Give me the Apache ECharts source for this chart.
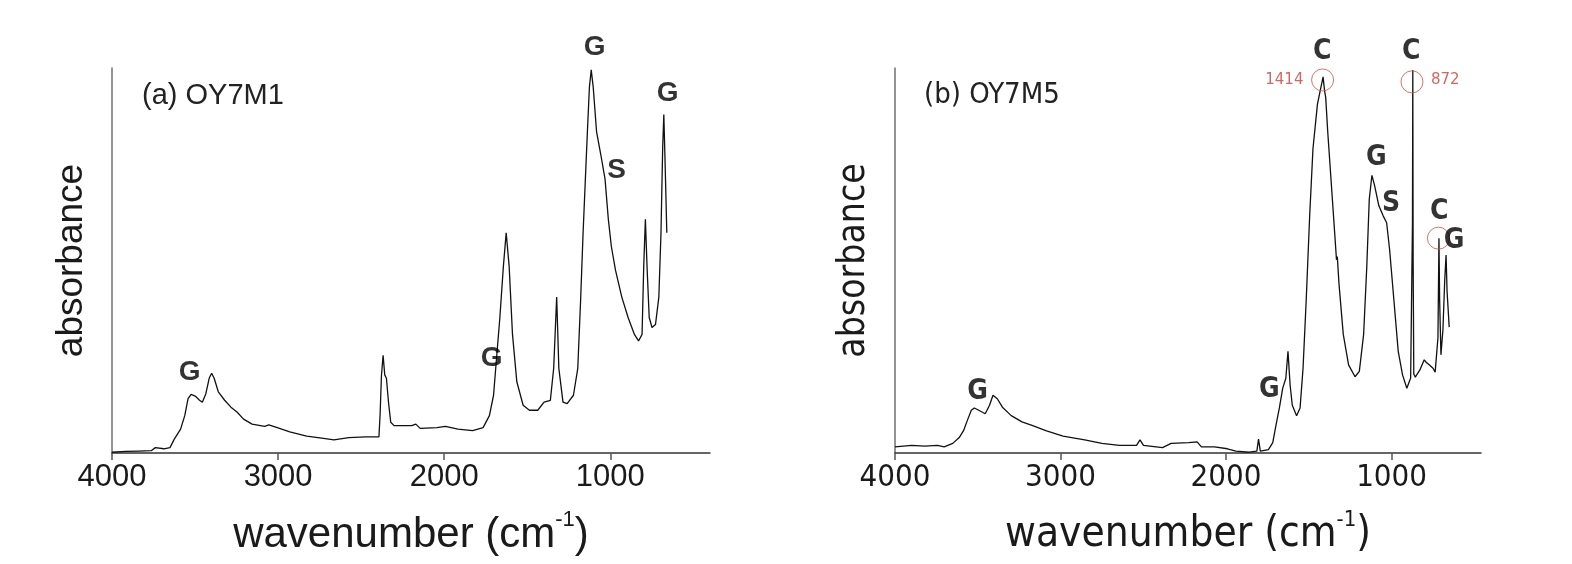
<!DOCTYPE html>
<html>
<head>
<meta charset="utf-8">
<script src="https://cdn.jsdelivr.net/npm/echarts@6/dist/echarts.min.js"></script>
<style>
  html, body { margin: 0; padding: 0; background: #fff; }
  #chart { width: 1572px; height: 564px; }
</style>
</head>
<body>
<div id="chart"></div>
<script>
// spectrum (a) OY7M1: [wavenumber, absorbance (arb.)]
var spectrumA = [
  [4000, 0.2], [3916, 0.4], [3840, 0.5], [3764, 0.6], [3739, 1.4], [3688, 1.1], [3651, 1.4],
  [3625, 3.6], [3587, 6.2], [3562, 9.7], [3542, 14.1], [3524, 15.2], [3499, 14.8], [3473, 13.7],
  [3456, 13.2], [3435, 15.4], [3415, 19.4], [3400, 20.7], [3385, 19.4], [3360, 15.9], [3322, 13.7],
  [3284, 11.9], [3246, 10.6], [3208, 8.8], [3157, 7.5], [3081, 6.9], [3056, 7.3], [3005, 6.6],
  [2930, 5.5], [2828, 4.4], [2727, 3.8], [2664, 3.4], [2575, 4.0], [2474, 4.2], [2393, 4.2],
  [2386, 10], [2378, 20], [2368, 25.4], [2358, 20.3], [2348, 19.4], [2335, 13], [2322, 8.0],
  [2302, 7.1], [2272, 7.1], [2196, 7.1], [2171, 7.5], [2145, 6.4], [2044, 6.6], [1993, 6.9],
  [1917, 6.2], [1829, 5.8], [1766, 6.6], [1728, 9.7], [1703, 15.0], [1690, 22.0], [1665, 35.2],
  [1644, 48.4], [1627, 57.2], [1624, 57.3], [1609, 48.4], [1589, 30.8], [1563, 18.5], [1525, 12.4],
  [1487, 11.1], [1437, 11.1], [1399, 13.2], [1361, 13.7], [1341, 22.0], [1323, 40.5], [1310, 22.0],
  [1285, 13.2], [1260, 12.8], [1222, 15.0], [1196, 22.0], [1179, 39.6], [1164, 57.2], [1151, 70.4],
  [1138, 83.5], [1126, 95.0], [1115, 99.5], [1103, 95.0], [1083, 83.5], [1057, 77.4], [1032, 71.2],
  [1012, 60.7], [994, 53.7], [969, 47.5], [931, 40.5], [893, 35.2], [855, 30.8], [830, 29.1],
  [809, 30.8], [799, 48.4], [789, 60.7], [779, 48.4], [766, 35.2], [749, 32.6], [728, 33.4],
  [708, 40.5], [695, 57.2], [685, 79.1], [678, 87.9], [670, 74.8], [660, 57.2]
];

// spectrum (b) OY7M5
var spectrumB = [
  [4000, 1.6], [3899, 2.0], [3821, 1.8], [3743, 2.0], [3703, 1.6], [3651, 2.5], [3612, 4.0],
  [3586, 5.8], [3560, 8.8], [3539, 11.1], [3521, 11.7], [3494, 11.1], [3455, 10.2], [3429, 12.4],
  [3408, 15.0], [3398, 15.4], [3382, 14.1], [3351, 11.9], [3298, 9.7], [3233, 8.1], [3168, 7.1],
  [3089, 5.8], [2985, 4.4], [2854, 3.4], [2750, 2.5], [2645, 2.0], [2541, 2.0], [2520, 3.4],
  [2499, 2.0], [2384, 1.4], [2332, 2.5], [2227, 2.7], [2175, 2.9], [2149, 1.6], [2070, 1.6],
  [1992, 1.1], [1940, 0.5], [1861, 0.2], [1814, 0.5], [1804, 3.6], [1793, 0.5], [1744, 0.9],
  [1718, 2.7], [1699, 7.1], [1678, 11.7], [1658, 16.8], [1639, 19.4], [1626, 26.4], [1613, 17.6],
  [1600, 12.4], [1574, 9.7], [1553, 11.7], [1535, 22.0], [1516, 39.6], [1495, 61.6], [1475, 79.1],
  [1448, 90.6], [1414, 97.7], [1405, 94.1], [1398, 92.3], [1386, 83.5], [1365, 70.4], [1344, 57.2],
  [1333, 50.2], [1328, 51.0], [1318, 44.0], [1292, 30.8], [1260, 22.9], [1221, 19.8], [1195, 21.2],
  [1169, 30.8], [1150, 48.4], [1135, 65.9], [1119, 72.1], [1103, 69.5], [1077, 64.2], [1051, 61.6],
  [1030, 59.8], [1012, 52.8], [986, 39.6], [960, 26.4], [934, 20.3], [908, 16.8], [885, 19.5],
  [874, 60], [872, 99.5], [870, 50], [866, 20.5], [857, 19.7], [830, 21.5], [803, 24.2],
  [790, 23.5], [773, 22.9], [750, 22.0], [737, 21.0], [720, 30], [714, 55.8], [710, 40],
  [702, 25.5], [690, 32], [679, 45], [671, 51.4], [665, 42], [652, 32.7]
];

// peak assignments [wavenumber, absorbance, text]
var marksA = [[3532, 21.0, 'G'], [1714, 24.7, 'G'], [1094, 105.5, 'G'], [962, 73.5, 'S'], [655, 93.5, 'G']];
var marksB = [[3501, 15.8, 'G'], [1739, 16.4, 'G'], [1419, 104.2, 'C'], [882, 104.2, 'C'],
              [1093, 76.6, 'G'], [1003, 64.7, 'S'], [713, 62.6, 'C'], [623, 55.1, 'G']];
var circlesB = [[1417, 96.9], [877, 96.4], [717, 55.8]];
var peakTextB = [[1648, 96.9, '1414'], [676, 96.9, '872']];

var tickValues = [1000, 2000, 3000, 4000];

var fontA = 'Liberation Sans';
var fontB = '"DejaVu Sans Condensed", "DejaVu Sans"';

function xAxisOf(idx, min, font) {
    return {
        type: 'value',
        gridIndex: idx,
        inverse: true,
        min: min,
        max: 4000,
        name: '{t|wavenumber (cm}{s|-1}{t|)}',
        nameLocation: 'middle',
        nameGap: 56,
        nameTextStyle: {
            rich: {
                t: {fontFamily: font, fontSize: 42, color: '#1a1a1a', lineHeight: 46},
                s: {fontFamily: font, fontSize: 22, color: '#1a1a1a', padding: [0, 0, 30, 0]}
            }
        },
        axisLine: {lineStyle: {color: '#333', width: 1.5}},
        axisTick: {show: true, length: 7, customValues: tickValues, lineStyle: {color: '#555', width: 1.5}},
        axisLabel: {
            customValues: tickValues,
            formatter: function (v) { return String(v); },
            fontFamily: font, fontSize: 31, color: '#1a1a1a', margin: 9
        },
        splitLine: {show: false}
    };
}

function yAxisOf(idx, font) {
    return {
        type: 'value',
        gridIndex: idx,
        min: 0,
        max: 100,
        name: 'absorbance',
        nameLocation: 'middle',
        nameGap: 22,
        nameTextStyle: {fontFamily: font, fontSize: 37, color: '#1a1a1a'},
        axisLine: {show: true, lineStyle: {color: '#808080', width: 1.7}},
        axisTick: {show: false},
        axisLabel: {show: false},
        splitLine: {show: false}
    };
}

function lineSeries(idx, data) {
    return {
        type: 'line',
        xAxisIndex: idx,
        yAxisIndex: idx,
        data: data,
        showSymbol: false,
        animation: false,
        lineStyle: {color: '#111', width: 1.3},
        z: 2
    };
}

function textSeries(idx, data, style) {
    return {
        type: 'scatter',
        xAxisIndex: idx,
        yAxisIndex: idx,
        clip: false,
        symbolSize: 1,
        animation: false,
        itemStyle: {color: 'rgba(0,0,0,0)'},
        data: data,
        label: Object.assign({
            show: true,
            position: 'inside',
            textBorderWidth: 0,
            formatter: function (p) { return p.data[2]; }
        }, style),
        emphasis: {disabled: true},
        z: 5
    };
}

var chart = echarts.init(document.getElementById('chart'), null, {renderer: 'canvas'});

var option = {
    backgroundColor: '#fff',
    animation: false,
    title: [
        {text: '(a) OY7M1', left: 137, top: 76, textStyle: {fontFamily: fontA, fontSize: 29, fontWeight: 'normal', color: '#222'}},
        {text: '(b) OY7M5', left: 919, top: 76, textStyle: {fontFamily: fontB, fontSize: 29, fontWeight: 'normal', color: '#222'}}
    ],
    grid: [
        {left: 112, right: 862, top: 68, bottom: 111},
        {left: 895, right: 91, top: 68, bottom: 111}
    ],
    xAxis: [xAxisOf(0, 400, fontA), xAxisOf(1, 460, fontB)],
    yAxis: [yAxisOf(0, fontA), yAxisOf(1, fontB)],
    series: [
        lineSeries(0, spectrumA),
        lineSeries(1, spectrumB),
        textSeries(0, marksA, {fontFamily: fontA, fontSize: 28, fontWeight: 'bold', color: '#000'}),
        textSeries(1, marksB, {fontFamily: fontB, fontSize: 28, fontWeight: 'bold', color: '#000'}),
        textSeries(1, peakTextB, {fontFamily: 'DejaVu Sans', fontSize: 15, color: '#c8403a'}),
        {
            type: 'scatter',
            xAxisIndex: 1,
            yAxisIndex: 1,
            clip: false,
            animation: false,
            symbol: 'circle',
            symbolSize: 22,
            itemStyle: {color: 'rgba(0,0,0,0)', borderColor: '#d0504a', borderWidth: 1},
            emphasis: {disabled: true},
            data: circlesB,
            z: 4
        }
    ]
};

chart.setOption(option);
</script>
</body>
</html>
